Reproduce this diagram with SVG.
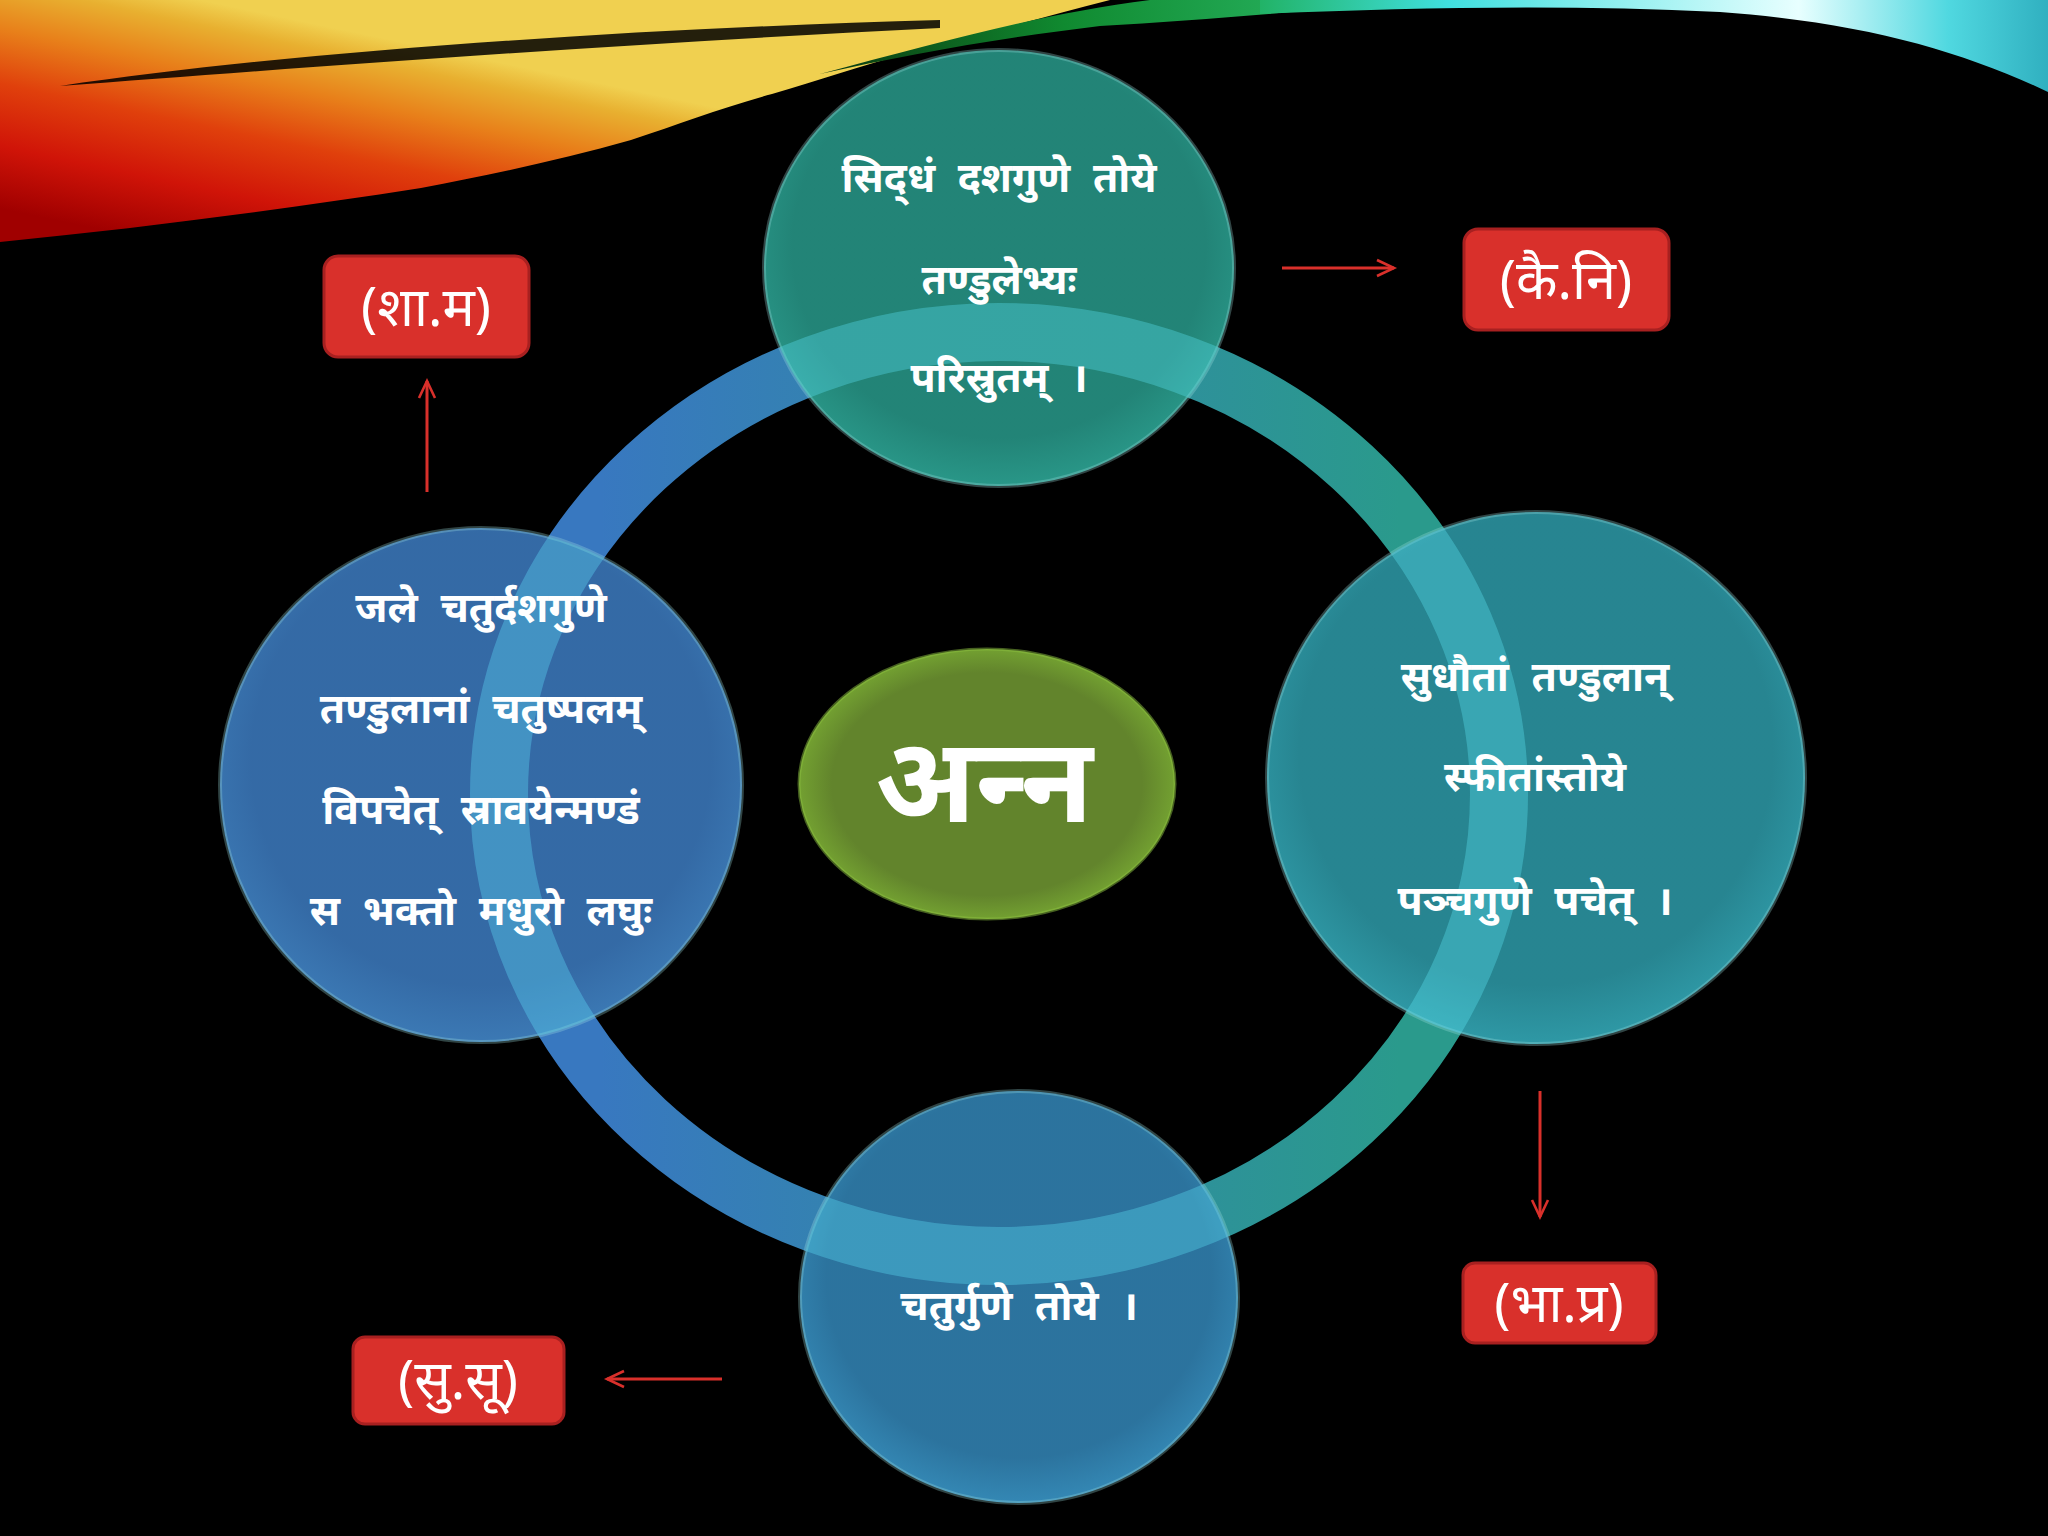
<svg xmlns="http://www.w3.org/2000/svg" width="2048" height="1536" viewBox="0 0 2048 1536">
<defs>
<style>
.t{font-family:"Noto Sans","Noto Sans CJK SC",sans-serif;font-weight:bold;fill:#ffffff;text-anchor:middle;font-size:41px;word-spacing:12px}
.lbl{font-family:"Noto Sans","Noto Sans CJK SC",sans-serif;fill:#ffffff;text-anchor:middle;font-size:54px}
.box{fill:#d9302b;stroke:#a82020;stroke-width:3}
.arr{stroke:#d9302b;stroke-width:3;fill:none;marker-end:url(#ah)}
.rim{stroke:#9fe0e0;stroke-opacity:0.3;stroke-width:4}
</style>
<marker id="ah" viewBox="0 0 20 20" refX="19" refY="10" markerWidth="20" markerHeight="20" markerUnits="userSpaceOnUse" orient="auto" overflow="visible">
<path d="M2,2 L19,10 L2,18" fill="none" stroke="#d9302b" stroke-width="2.6"/>
</marker>
<linearGradient id="warm" gradientUnits="userSpaceOnUse" x1="150" y1="240" x2="200" y2="0">
<stop offset="0" stop-color="#a00000"/>
<stop offset="0.25" stop-color="#d01408"/>
<stop offset="0.5" stop-color="#e0400c"/>
<stop offset="0.72" stop-color="#e8801a"/>
<stop offset="0.9" stop-color="#e8b030"/>
<stop offset="1" stop-color="#f0d050"/>
</linearGradient>
<linearGradient id="cool" gradientUnits="userSpaceOnUse" x1="1050" y1="0" x2="2048" y2="0">
<stop offset="0" stop-color="#0a6a20"/>
<stop offset="0.2" stop-color="#20b060"/>
<stop offset="0.4" stop-color="#40e0e0"/>
<stop offset="0.75" stop-color="#e8ffff"/>
<stop offset="0.9" stop-color="#50d8e0"/>
<stop offset="1" stop-color="#30b0c0"/>
</linearGradient>
<linearGradient id="grn" gradientUnits="userSpaceOnUse" x1="830" y1="60" x2="1420" y2="0">
<stop offset="0" stop-color="#0a3a10"/>
<stop offset="0.4" stop-color="#108a30"/>
<stop offset="1" stop-color="#30c070"/>
</linearGradient>
<linearGradient id="ringg" gradientUnits="userSpaceOnUse" x1="600" y1="700" x2="1400" y2="700">
<stop offset="0" stop-color="#3878c0"/>
<stop offset="1" stop-color="#2a9a8c"/>
</linearGradient>
<radialGradient id="gTop" cx="0.5" cy="0.45" r="0.55">
<stop offset="0.8" stop-color="#258e80"/>
<stop offset="1" stop-color="#2ca292"/>
</radialGradient>
<radialGradient id="gLeft" cx="0.5" cy="0.45" r="0.55">
<stop offset="0.8" stop-color="#3872b2"/>
<stop offset="1" stop-color="#4082c2"/>
</radialGradient>
<radialGradient id="gRight" cx="0.5" cy="0.45" r="0.55">
<stop offset="0.8" stop-color="#2a8f9c"/>
<stop offset="1" stop-color="#32a4b2"/>
</radialGradient>
<radialGradient id="gBot" cx="0.5" cy="0.45" r="0.55">
<stop offset="0.8" stop-color="#2f7caa"/>
<stop offset="1" stop-color="#3892c2"/>
</radialGradient>
<radialGradient id="gMid" cx="0.5" cy="0.5" r="0.55">
<stop offset="0.75" stop-color="#62842c"/>
<stop offset="1" stop-color="#7cb034"/>
</radialGradient>
<clipPath id="circ">
<ellipse cx="999" cy="268" rx="235" ry="218"/>
<ellipse cx="481" cy="785" rx="261" ry="257"/>
<ellipse cx="1536" cy="778" rx="269" ry="266"/>
<ellipse cx="1019" cy="1297" rx="219" ry="206"/>
</clipPath>
</defs>
<rect x="0" y="0" width="2048" height="1536" fill="#000000"/>
<g id="decoration">
<path d="M0,0 L1110,0 C1040,18 980,35 912,52 C860,66 820,80 772,94 C720,108 680,124 631,140 C560,160 490,175 421,188 C280,210 140,228 0,242 Z" fill="url(#warm)"/>
<path d="M60,86 C300,50 650,28 940,20 L940,28 C650,42 320,66 60,86 Z" fill="#000000" opacity="0.85"/>
<path d="M820,74 C940,42 1040,14 1150,0 L1420,0 C1300,12 1200,20 1100,26 C1000,38 910,54 820,74 Z" fill="url(#grn)"/>
<path d="M1260,0 L2048,0 L2048,92 C1960,50 1860,22 1720,12 C1560,4 1400,8 1260,14 Z" fill="url(#cool)"/>
</g>
<g id="ring">
<ellipse cx="999" cy="794" rx="500" ry="462" fill="none" stroke="url(#ringg)" stroke-width="58"/>
</g>
<g id="node-top">
<ellipse cx="999" cy="268" rx="235" ry="218" fill="url(#gTop)" fill-opacity="0.93" class="rim"/>
</g>
<g id="node-left">
<ellipse cx="481" cy="785" rx="261" ry="257" fill="url(#gLeft)" fill-opacity="0.93" class="rim"/>
</g>
<g id="node-right">
<ellipse cx="1536" cy="778" rx="269" ry="266" fill="url(#gRight)" fill-opacity="0.93" class="rim"/>
</g>
<g id="node-bottom">
<ellipse cx="1019" cy="1297" rx="219" ry="206" fill="url(#gBot)" fill-opacity="0.93" class="rim"/>
</g>
<g id="ring-overlay" clip-path="url(#circ)">
<ellipse cx="999" cy="794" rx="500" ry="462" fill="none" stroke="#5ad6e6" stroke-opacity="0.32" stroke-width="58"/>
</g>
<g id="node-center">
<ellipse cx="987" cy="784" rx="188" ry="135" fill="url(#gMid)" stroke="#8cc040" stroke-opacity="0.5" stroke-width="3"/>
<text x="984" y="822" class="t" style="font-size:118px">अन्‍न</text>
</g>
<g id="texts">
<text x="999" y="192" class="t">सिद्‌धं दशगुणे तोये</text>
<text x="999" y="294" class="t">तण्डुलेभ्यः</text>
<text x="999" y="392" class="t">परिस्रुतम् ।</text>
<text x="481" y="622" class="t">जले चतुर्दशगुणे</text>
<text x="481" y="723" class="t">तण्डुलानां चतुष्पलम्</text>
<text x="481" y="824" class="t">विपचेत् स्रावयेन्मण्डं</text>
<text x="481" y="925" class="t">स भक्तो मधुरो लघुः</text>
<text x="1535" y="691" class="t">सुधौतां तण्डुलान्</text>
<text x="1535" y="791" class="t">स्फीतांस्तोये</text>
<text x="1535" y="915" class="t">पञ्चगुणे पचेत् ।</text>
<text x="1019" y="1320" class="t">चतुर्गुणे तोये ।</text>
</g>
<g id="label-sham">
<rect x="324" y="256" width="205" height="101" rx="14" class="box"/>
<text x="426" y="326" class="lbl">(शा.म)</text>
</g>
<g id="label-kaini">
<rect x="1464" y="229" width="205" height="101" rx="14" class="box"/>
<text x="1566" y="299" class="lbl">(कै.नि)</text>
</g>
<g id="label-bhapra">
<rect x="1463" y="1263" width="193" height="80" rx="12" class="box"/>
<text x="1559" y="1322" class="lbl">(भा.प्र)</text>
</g>
<g id="label-susu">
<rect x="353" y="1337" width="211" height="87" rx="12" class="box"/>
<text x="458" y="1399" class="lbl">(सु.सू)</text>
</g>
<g id="connectors">
<path d="M427,492 L427,381" class="arr"/>
<path d="M1282,268 L1394,268" class="arr"/>
<path d="M1540,1091 L1540,1217" class="arr"/>
<path d="M722,1379 L607,1379" class="arr"/>
</g>
</svg>
